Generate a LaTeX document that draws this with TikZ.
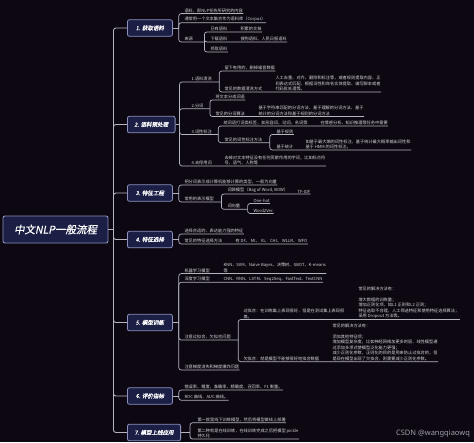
\documentclass[tikz,border=0pt]{standalone}
\usepackage{fontspec}
\setmainfont{Noto Sans CJK SC}
\newfontfamily\headfont[FakeSlant=0.2,FakeBold=0.6]{Noto Sans CJK SC}
\newfontfamily\markfont{Noto Sans}
\definecolor{bgc}{HTML}{0C0710}
\definecolor{boxfill}{HTML}{1B1E45}
\definecolor{boxline}{HTML}{8C92BE}
\definecolor{linec}{HTML}{B4B4BE}
\definecolor{txtc}{HTML}{D6D6DC}
\definecolor{markc}{HTML}{A0A0A8}

\begin{document}
\begin{tikzpicture}[x=1pt,y=-1pt,
    root/.style={draw=boxline,fill=boxfill,rounded corners=2pt,line width=0.9pt,text=white,font=\headfont\fontsize{10.5}{12}\selectfont,minimum width=105pt,minimum height=27pt,inner sep=0pt},
    main/.style={anchor=west,draw=boxline,fill=boxfill,rounded corners=2pt,line width=0.8pt,text=white,font=\headfont\fontsize{5.5}{6.5}\selectfont,minimum width=45pt,minimum height=16.5pt,inner xsep=7pt,inner ysep=0pt},
    leaf/.style={anchor=south west,align=left,text=txtc,font=\fontsize{4.2}{5.5}\selectfont,inner xsep=0.3pt,inner ysep=0.8pt},
    link/.style={draw=linec,line width=0.7pt,rounded corners=2.5pt},
    trunk/.style={link,line width=0.9pt}]
    \fill[bgc] (0,0) rectangle (474,442);
    \useasboundingbox (0,0) rectangle (474,442);

    \node[root] (nlp) at (55.5,229.5) {中文NLP一般流程};

    \node[main] (s1) at (127,28) {1. 获取语料};
    \node[main] (s2) at (127,124.5) {2. 语料预处理};
    \node[main] (s3) at (127,193) {3. 特征工程};
    \node[main] (s4) at (127,239.5) {4. 特征选择};
    \node[main] (s5) at (127,322.5) {5. 模型训练};
    \node[main] (s6) at (127,396) {6. 评价指标};
    \node[main] (s7) at (127,432.5) {7. 模型上线应用};

    \draw[trunk] (nlp.east) -- ++(5,0) coordinate (rj);
    \draw[trunk] (rj) |- (s1.west);
    \draw[trunk] (rj) |- (s2.west);
    \draw[trunk] (rj) |- (s3.west);
    \draw[trunk] (rj) |- (s4.west);
    \draw[trunk] (rj) |- (s5.west);
    \draw[trunk] (rj) |- (s6.west);
    \draw[trunk] (rj) |- (s7.west);

    % 1. 获取语料
    \node[leaf] (a1) at (184,13.5) {语料，即NLP任务所研究的内容};
    \node[leaf] (a2) at (184,22.7) {通常用一个文本集合作为语料库（Corpus）};
    \node[leaf] (a3) at (184,42) {来源};
    \node[leaf] (a3a) at (210,32) {已有语料};
    \node[leaf] (a3aR) at (240,32) {积累的文档};
    \node[leaf] (a3b) at (210,42) {下载语料};
    \node[leaf] (a3bR) at (240,42) {搜狗语料、人民日报语料};
    \node[leaf] (a3c) at (210,52) {抓取语料};

    \draw[link] (s1.east) -- ++(6,0) coordinate (j1);
    \draw[link] (j1) |- (a1.south west) -- (a1.south east);
    \draw[link] (j1) |- (a2.south west) -- (a2.south east);
    \draw[link] (j1) |- (a3.south west) -- (a3.south east) -- ++(11,0) coordinate (j13);
    \draw[link] (j13) |- (a3a.south west) -- (a3aR.south east);
    \draw[link] (j13) |- (a3b.south west) -- (a3bR.south east);
    \draw[link] (j13) |- (a3c.south west) -- (a3c.south east);

    % 2. 语料预处理
    \node[leaf] (b1) at (191,82) {1.语料清洗};
    \node[leaf] (b1a) at (224,71) {留下有用的，删掉噪音数据};
    \node[leaf] (b1b) at (224,92) {常见的数据清洗方式};
    \node[leaf] (b1bR) at (275,92) {人工去重、对齐、删除和标注等，或者规则提取内容、正\\则表达式匹配、根据词性和命名实体提取、编写脚本或者\\代码批处理等。};
    \node[leaf] (b2) at (191,108.7) {2.分词};
    \node[leaf] (b2a) at (215,100) {将文本分成词语};
    \node[leaf] (b2b) at (215,116.5) {常见的分词算法};
    \node[leaf] (b2bR) at (258,116.5) {基于字符串匹配的分词方法、基于理解的分词方法、基于\\统计的分词方法和基于规则的分词方法};
    \node[leaf] (b3) at (191,134.5) {3.词性标注};
    \node[leaf] (b3a) at (223,126) {给词语打词类标签，如形容词、动词、名词等};
    \node[leaf] (b3aR) at (320,126) {在情感分析、知识推理等任务中需要};
    \node[leaf] (b3b) at (224,142.7) {常见的词性标注方法};
    \node[leaf] (b3b1) at (276,134.5) {基于规则};
    \node[leaf] (b3b2) at (276,150) {基于统计};
    \node[leaf] (b3b2R) at (305,150) {如基于最大熵的词性标注、基于统计最大概率输出词性和\\基于 HMM 的词性标注。};
    \node[leaf] (b4) at (191,166) {4.去停用词};
    \node[leaf] (b4R) at (224,166) {去掉对文本特征没有任何贡献作用的字词，比如标点符\\号、语气、人称等};

    \draw[link] (s2.east) -- ++(4,0) coordinate (j2);
    \draw[link] (j2) |- (b1.south west) -- (b1.south east) -- ++(7,0) coordinate (j21);
    \draw[link] (j21) |- (b1a.south west) -- (b1a.south east);
    \draw[link] (j21) |- (b1b.south west) -- (b1bR.south east);
    \draw[link] (j2) |- (b2.south west) -- (b2.south east) -- ++(6,0) coordinate (j22);
    \draw[link] (j22) |- (b2a.south west) -- (b2a.south east);
    \draw[link] (j22) |- (b2b.south west) -- (b2bR.south east);
    \draw[link] (j2) |- (b3.south west) -- (b3.south east) -- ++(6,0) coordinate (j23);
    \draw[link] (j23) |- (b3a.south west) -- (b3aR.south east);
    \draw[link] (j23) |- (b3b.south west) -- (b3b.south east) -- ++(7,0) coordinate (j231);
    \draw[link] (j231) |- (b3b1.south west) -- (b3b1.south east);
    \draw[link] (j231) |- (b3b2.south west) -- (b3b2R.south east);
    \draw[link] (j2) |- (b4.south west) -- (b4R.south east);

    % 3. 特征工程
    \node[leaf] (c1) at (184,185) {把分词表示成计算机能够计算的类型，一般为向量};
    \node[leaf] (c2) at (184,202) {常用的表示模型};
    \node[leaf] (c2a) at (227,194) {词袋模型（Bag of Word, BOW）};
    \node[leaf] (c2aR) at (297,194) {TF-IDF};
    \node[leaf] (c2b) at (227,209.3) {词向量};
    \node[leaf] (c2b1) at (253,203.5) {One-hot};
    \node[leaf] (c2b2) at (253,213.5) {Word2Vec};

    \draw[link] (s3.east) -- ++(6,0) coordinate (j3);
    \draw[link] (j3) |- (c1.south west) -- (c1.south east);
    \draw[link] (j3) |- (c2.south west) -- (c2.south east) -- ++(7,0) coordinate (j32);
    \draw[link] (j32) |- (c2a.south west) -- (c2aR.south east);
    \draw[link] (j32) |- (c2b.south west) -- (c2b.south east) -- ++(7,0) coordinate (j322);
    \draw[link] (j322) |- (c2b1.south west) -- (c2b1.south east);
    \draw[link] (j322) |- (c2b2.south west) -- (c2b2.south east);

    % 4. 特征选择
    \node[leaf] (d1) at (184,234) {选择合适的、表达能力强的特征};
    \node[leaf] (d2) at (184,244) {常见的特征选择方法};
    \node[leaf] (d2R) at (235,244) {有 DF、 MI、 IG、 CHI、 WLLR、 WFO};

    \draw[link] (s4.east) -- ++(6,0) coordinate (j4);
    \draw[link] (j4) |- (d1.south west) -- (d1.south east);
    \draw[link] (j4) |- (d2.south west) -- (d2R.south east);

    % 5. 模型训练
    \node[leaf] (e1) at (184,273.5) {机器学习模型};
    \node[leaf] (e1R) at (223,273.5) {KNN、SVM、Naive Bayes、决策树、GBDT、K-means\\等};
    \node[leaf] (e2) at (184,282.3) {深度学习模型};
    \node[leaf] (e2R) at (223,282.3) {CNN、RNN、LSTM、Seq2Seq、FastText、TextCNN};
    \node[leaf] (e3) at (184,340) {注意过拟合、欠拟合问题};
    \node[leaf] (e3a) at (243,319.5) {过拟合：在训练集上表现很好，但是在测试集上表现很\\差。};
    \node[leaf] (e3aR) at (358,319.5) {常见的解决方法有：\\[5.5pt]增大数据的训练量；\\增加正则化项，如L1 正则和L2 正则；\\特征选取不合理，人工筛选特征和使用特征选择算法；\\采用 Dropout 方法等。};
    \node[leaf] (e3b) at (243,361.7) {欠拟合：就是模型不能够很好地拟合数据};
    \node[leaf] (e3bR) at (332,361.7) {常见的解决方法有：\\[5.5pt]添加其他特征项；\\增加模型复杂度，比如神经网络加更多的层、线性模型通\\过添加多项式使模型泛化能力更强；\\减少正则化参数，正则化的目的是用来防止过拟合的，但\\是现在模型出现了欠拟合，则需要减少正则化参数。};
    \node[leaf] (e4) at (184,370) {注意梯度消失和梯度爆炸问题};

    \draw[link] (s5.east) -- ++(6,0) coordinate (j5);
    \draw[link] (j5) |- (e1.south west) -- (e1R.south east);
    \draw[link] (j5) |- (e2.south west) -- (e2R.south east);
    \draw[link] (j5) |- (e3.south west) -- (e3.south east) -- ++(7,0) coordinate (j53);
    \draw[link] (j53) |- (e3a.south west) -- (e3aR.south east);
    \draw[link] (j53) |- (e3b.south west) -- (e3bR.south east);
    \draw[link] (j5) |- (e4.south west) -- (e4.south east);

    % 6. 评价指标
    \node[leaf] (f1) at (184,390) {错误率、精度、准确率、精确度、召回率、F1 衡量。};
    \node[leaf] (f2) at (184,400.3) {ROC 曲线、AUC 曲线。};

    \draw[link] (s6.east) -- ++(6,0) coordinate (j6);
    \draw[link] (j6) |- (f1.south west) -- (f1.south east);
    \draw[link] (j6) |- (f2.south west) -- (f2.south east);

    % 7. 模型上线应用
    \node[leaf] (g1) at (197,422.7) {第一就是线下训练模型，然后将模型做线上部署};
    \node[leaf] (g2) at (197,439) {第二种就是在线训练，在线训练完成之后把模型 pickle\\持久化};

    \draw[link] (s7.east) -- ++(9,0) coordinate (j7);
    \draw[link] (j7) |- (g1.south west) -- (g1.south east);
    \draw[link] (j7) |- (g2.south west) -- (g2.south east);

    \node[font=\markfont\fontsize{7.5}{9}\selectfont,text=markc] (mark) at (433,433.3) {CSDN @wangqiaowq};
\end{tikzpicture}
\end{document}
